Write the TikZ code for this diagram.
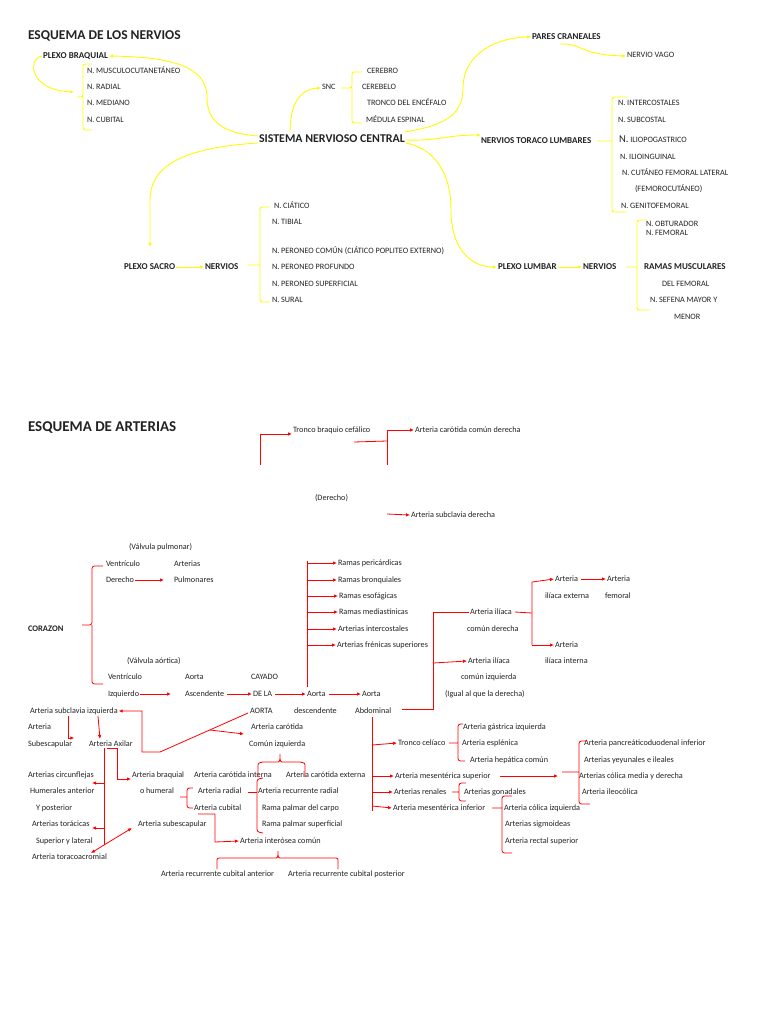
\documentclass[tikz,border=0pt]{standalone}
\usepackage{fontspec}
\setmainfont{Carlito}
\usetikzlibrary{arrows.meta}
\definecolor{yel}{RGB}{255,250,0}
\definecolor{rd}{RGB}{255,0,0}
\definecolor{tx}{RGB}{35,35,35}
\begin{document}
\begin{tikzpicture}[x=1pt,y=-1pt,
  txt/.style={anchor=west,inner sep=0pt,outer sep=1pt,text=tx,font=\fontsize{8.2}{9.5}\selectfont,text height=5.6pt,text depth=1.6pt},
  hdr/.style={txt,font=\bfseries\fontsize{9}{10}\selectfont,text height=6.2pt},
  ttl/.style={txt,font=\bfseries\fontsize{13.5}{15}\selectfont,text height=9.5pt,text depth=2.5pt},
  ylin/.style={draw=yel,line width=0.9pt},
  yarr/.style={ylin,-{Latex[length=4pt,width=3.5pt]}},
  ybr/.style={ylin,rounded corners=2.5pt},
  rlin/.style={draw=rd,line width=0.8pt},
  rarr/.style={rlin,-{Latex[length=4pt,width=3.5pt]}},
  rbr/.style={rlin,rounded corners=2.5pt},
]
\useasboundingbox (0,0) rectangle (768,1024);
\fill[white] (0,0) rectangle (768,1024);

% ================= NERVIOS =================
\node[ttl] (ttlN) at (27,36) {ESQUEMA DE LOS NERVIOS};
\node[hdr] (pb) at (42,56) {PLEXO BRAQUIAL};
\node[txt] (n1) at (86,72) {N. MUSCULOCUTANETÁNEO};
\node[txt] (n2) at (86,88) {N. RADIAL};
\node[txt] (n3) at (86,104) {N. MEDIANO};
\node[txt] (n4) at (86,121) {N. CUBITAL};
\node[txt,font=\bfseries\fontsize{11.9}{13}\selectfont,text height=8pt,text depth=2pt] (snm) at (258,140) {SISTEMA NERVIOSO CENTRAL};
\node[txt] (snc) at (321,88) {SNC};
\node[txt] (c1) at (366,72) {CEREBRO};
\node[txt] (c2) at (361,88) {CEREBELO};
\node[txt] (c3) at (366,104) {TRONCO DEL ENCÉFALO};
\node[txt] (c4) at (365,121) {MÉDULA ESPINAL};
\node[hdr] (pc) at (531,37) {PARES CRANEALES};
\node[txt] (vago) at (626,56) {NERVIO VAGO};
\node[hdr] (ntl) at (480,141) {NERVIOS TORACO LUMBARES};
\node[txt] (t1) at (617,104) {N. INTERCOSTALES};
\node[txt] (t2) at (617,121) {N. SUBCOSTAL};
\node[txt] (t3) at (618,141) {{\fontsize{10.5}{11}\selectfont N.} ILIOPOGASTRICO};
\node[txt] (t4) at (619,158) {N. ILIOINGUINAL};
\node[txt] (t5) at (621,174) {N. CUTÁNEO FEMORAL LATERAL};
\node[txt] (t6) at (634,190) {(FEMOROCUTÁNEO)};
\node[txt] (t7) at (620,207) {N. GENITOFEMORAL};
\node[hdr] (ps) at (123,267) {PLEXO SACRO};
\node[hdr] (nv1) at (204,267) {NERVIOS};
\node[txt] (s1) at (273,207) {N. CIÁTICO};
\node[txt] (s2) at (271,223) {N. TIBIAL};
\node[txt] (s3) at (271,251) {N. PERONEO COMÚN (CIÁTICO POPLITEO EXTERNO)};
\node[txt] (s4) at (271,267) {N. PERONEO PROFUNDO};
\node[txt] (s5) at (271,284) {N. PERONEO SUPERFICIAL};
\node[txt] (s6) at (271,300) {N. SURAL};
\node[hdr] (pl) at (497,267) {PLEXO LUMBAR};
\node[hdr] (nv2) at (582,267) {NERVIOS};
\node[txt] (l1) at (645,224) {N. OBTURADOR};
\node[txt] (l2) at (645,234) {N. FEMORAL};
\node[hdr] (rm) at (643,267) {RAMAS MUSCULARES};
\node[txt] (l3) at (661,284) {DEL FEMORAL};
\node[txt] (l4) at (649,300) {N. SEFENA MAYOR Y};
\node[txt] (l5) at (673,317) {MENOR};

\coordinate (pbin) at (74,92);
\coordinate (psin) at (150,247);
\coordinate (ntlin) at (481,135);
\draw[yarr] (pb.west) .. controls (28,58) and (28,90) .. (pbin);
\draw[ybr] (92,64) -- (83,64) -- (83,97) -- (77,97) (83,97) -- (83,130) -- (92,130);
\draw[yarr] ([yshift=4pt]snm.west) .. controls (218,133) and (207,118) .. (207,97)
   .. controls (207,64) and (165,57) .. (pb.east);
\draw[yarr] (290,132) .. controls (290,104) and (300,89) .. (snc.west);
\draw[ybr] (362,72) -- (352,72) -- (352,88) -- (341,88) (352,88) -- (352,123) -- (362,123);
\draw[yarr] (404,132) .. controls (452,125) and (463,110) .. (463,88)
   .. controls (463,52) and (500,37) .. (pc.west);
\draw[yarr] (560,44) .. controls (582,43) and (580,55) .. (vago.west);
\draw[yarr] (snm.east) .. controls (440,141) and (445,135) .. (ntlin);
\draw[ybr] (597,141) -- (612,141) (627,97) -- (612,97) -- (612,212) -- (627,212);
\draw[yarr] ([yshift=-3pt]snm.west) .. controls (175,148) and (150,170) .. (150,200) -- (psin);
\draw[yarr] (ps.east) -- (nv1.west);
\draw[ybr] (248,265) -- (260,265) (270,207) -- (260,207) -- (260,302) -- (270,302);
\draw[yarr] ([yshift=-3pt]snm.east) .. controls (440,150) and (451,180) .. (451,210)
   .. controls (451,248) and (470,267) .. (pl.west);
\draw[yarr] (pl.east) -- (nv2.west);
\draw[ybr] (626,267) -- (637,267) (647,220) -- (637,220) -- (637,310) -- (649,310);

% ================= ARTERIAS =================
\node[ttl,font=\bfseries\fontsize{15}{17}\selectfont,text height=10.5pt] (ttlA) at (27,427) {ESQUEMA DE ARTERIAS};
\node[txt] (tbc) at (292,430) {Tronco braquio cefálico};
\node[txt] (accd) at (414,430) {Arteria carótida común derecha};
\node[txt] (der) at (314,498) {(Derecho)};
\node[txt] (asd) at (410,515) {Arteria subclavia derecha};

\coordinate (tb0) at (260,465);
\coordinate (tb1) at (260,434);
\draw[rarr] (tb0) -- (tb1) -- (tbc.west |- tb1);
\coordinate (cd0) at (354,442);
\coordinate (cd1) at (387,441);
\draw[rlin] (cd0) -- (cd1);
\draw[rarr] (387,465) -- (387,430) -- (accd.west);
\draw[rarr] (387,514) -- (asd.west);

\node[txt] (vp) at (128,547) {(Válvula pulmonar)};
\node[hdr,font=\bfseries\fontsize{8.5}{10}\selectfont] (cor) at (27,629) {CORAZON};
\node[txt] (vd1) at (105,564) {Ventrículo};
\node[txt] (vd2) at (105,580) {Derecho};
\node[txt] (ap1) at (173,564) {Arterias};
\node[txt] (ap2) at (173,580) {Pulmonares};
\node[txt] (va) at (126,661) {(Válvula aórtica)};
\node[txt] (vi1) at (107,677) {Ventrículo};
\node[txt] (vi2) at (107,694) {Izquierdo};
\node[txt] (aa1) at (184,677) {Aorta};
\node[txt] (aa2) at (184,694) {Ascendente};
\node[txt] (cay1) at (250,677) {CAYADO};
\node[txt] (cay2) at (252,694) {DE LA};
\node[txt] (cay3) at (249,711) {AORTA};
\node[txt] (ad1) at (306,694) {Aorta};
\node[txt] (ad2) at (293,711) {descendente};
\node[txt] (ab1) at (361,694) {Aorta};
\node[txt] (ab2) at (354,711) {Abdominal};

\draw[rbr] (103,566) -- (92,566) -- (92,625) -- (82,625) (92,625) -- (92,684) -- (103,684);
\draw[rarr] (vd2.east) -- ([xshift=-9pt]ap2.west);
\draw[rarr] (vi2.east) -- ([xshift=-13pt]aa2.west);
\draw[rarr] ([xshift=2pt]aa2.east) -- (cay2.west);
\draw[rarr] ([xshift=2pt]cay2.east) -- (ad1.west);
\draw[rarr] ([xshift=2pt]ad1.east) -- (ab1.west);

\node[txt] (r1) at (337,563) {Ramas pericárdicas};
\node[txt] (r2) at (337,580) {Ramas bronquiales};
\node[txt] (r3) at (338,596) {Ramas esofágicas};
\node[txt] (r4) at (338,612) {Ramas mediastínicas};
\node[txt] (r5) at (337,629) {Arterias intercostales};
\node[txt] (r6) at (336,645) {Arterias frénicas superiores};
\draw[rlin] (307,561) -- (307,687);
\foreach \n in {r1,r2,r3,r4,r5,r6} \draw[rarr] (307,0 |- \n.west) -- (\n.west);

\node[txt] (ic1) at (469,612) {Arteria ilíaca};
\node[txt] (ic2) at (466,629) {común derecha};
\node[txt] (ii1) at (467,661) {Arteria ilíaca};
\node[txt] (ii2) at (460,677) {común izquierda};
\node[txt] (ii3) at (444,694) {(Igual al que la derecha)};
\node[txt] (ie1) at (554,579) {Arteria};
\node[txt] (ie2) at (544,596) {ilíaca externa};
\node[txt] (fe1) at (606,579) {Arteria};
\node[txt] (fe2) at (604,596) {femoral};
\node[txt] (in1) at (554,645) {Arteria};
\node[txt] (in2) at (544,661) {ilíaca interna};

\draw[rlin] ([xshift=10pt,yshift=2pt]ab2.east) -- (433,709) -- (433,612) -- (ic1.west);
\draw[rarr] (433,663) -- (ii1.west);
\draw[rlin] ([xshift=2pt]ic1.east) -- (532,613);
\draw[rarr] (532,645) -- (532,582) -- (ie1.west);
\draw[rarr] (532,645) -- (in1.west);
\draw[rarr] ([xshift=2pt]ie1.east) -- (fe1.west);

% ---- bottom left
\node[txt] (sci) at (29,711) {Arteria subclavia izquierda};
\node[txt] (acc1) at (250,727) {Arteria carótida};
\node[txt] (acc2) at (248,744) {Común izquierda};
\node[txt] (sub1) at (27,727) {Arteria};
\node[txt] (sub2) at (27,744) {Subescapular};
\node[txt] (ax) at (88,744) {Arteria Axilar};
\node[txt] (circ1) at (27,775) {Arterias circunflejas};
\node[txt] (circ2) at (29,791) {Humerales anterior};
\node[txt] (circ3) at (35,808) {Y posterior};
\node[txt] (tor1) at (31,824) {Arterias torácicas};
\node[txt] (tor2) at (35,841) {Superior y lateral};
\node[txt] (toa) at (31,857) {Arteria toracoacromial};
\node[txt] (br1) at (131,775) {Arteria braquial};
\node[txt] (br2) at (139,791) {o humeral};
\node[txt] (ci) at (193,775) {Arteria carótida interna};
\node[txt] (ce) at (285,775) {Arteria carótida externa};
\node[txt] (rad) at (197,791) {Arteria radial};
\node[txt] (cub) at (193,808) {Arteria cubital};
\node[txt] (rr) at (257,791) {Arteria recurrente radial};
\node[txt] (rpc) at (261,808) {Rama palmar del carpo};
\node[txt] (rps) at (261,824) {Rama palmar superficial};
\node[txt] (subesc) at (137,824) {Arteria subescapular};
\node[txt] (inter) at (239,841) {Arteria interósea común};
\node[txt] (rca) at (160,874) {Arteria recurrente cubital anterior};
\node[txt] (rcp) at (287,874) {Arteria recurrente cubital posterior};

\coordinate (ao0) at (248,713);
\coordinate (ao1) at (160,752);
\draw[rarr] (ao0) -- (ao1) -- (142,752) -- (142,711) -- (sci.east);
\draw[rarr] (210,730) -- (244,734);
\draw[rarr] (68,716) -- (68,738) -- ([xshift=1pt]sub2.east |- 0,738);
\draw[rarr] (98,716) -- (100,739);
\draw[rlin] (104,748) -- (104,845);
\draw[rarr] (104,783) -- (92,783);
\draw[rarr] (104,828) -- (92,828);
\draw[rarr] (104,845) -- (91,853);
\draw[rarr] (104,845) -- (132,828);
\draw[rarr] (107,748) -- (117,748) -- (117,779) -- (br1.west |- 0,779);
\draw[rlin] (258,777) -- (258,767) .. controls (258,763) .. (263,762) -- (276,762)
  .. controls (280,762) .. (280,754) .. controls (280,762) .. (284,762) -- (300,762)
  .. controls (305,763) .. (305,767) -- (305,777);
\draw[rbr] (180,797) -- (187,797) (193,788) -- (187,788) -- (187,808) -- (193,808);
\draw[rlin] (248,792) -- (257,792);
\draw[rlin] (263,778) .. controls (257,779) .. (257,785) -- (257,826) .. controls (257,832) .. (263,833);
\draw[rarr] (198,814) -- (215,814) -- (215,842) -- (inter.west);
\draw[rlin] (217,869) -- (217,862) .. controls (217,858) .. (222,858) -- (274,858)
  .. controls (278,858) .. (278,851) .. controls (278,858) .. (282,858) -- (334,858)
  .. controls (338,858) .. (338,862) -- (338,869);

% ---- bottom right
\node[txt] (tc) at (397,743) {Tronco celíaco};
\node[txt] (ams) at (394,776) {Arteria mesentérica superior};
\node[txt] (ar) at (393,792) {Arterias renales};
\node[txt] (ami) at (392,808) {Arteria mesentérica inferior};
\node[txt] (agi) at (462,727) {Arteria gástrica izquierda};
\node[txt] (ae) at (461,743) {Arteria esplénica};
\node[txt] (ahc) at (469,760) {Arteria hepática común};
\node[txt] (apd) at (583,743) {Arteria pancreáticoduodenal inferior};
\node[txt] (ayi) at (583,760) {Arterias yeyunales e ileales};
\node[txt] (acm) at (578,776) {Arterias cólica media y derecha};
\node[txt] (aic) at (581,792) {Arteria ileocólica};
\node[txt] (ag) at (463,792) {Arterias gonadales};
\node[txt] (aci) at (503,808) {Arteria cólica izquierda};
\node[txt] (asg) at (504,824) {Arterias sigmoideas};
\node[txt] (ars) at (504,841) {Arteria rectal superior};

\draw[rlin] (372,717) -- (372,811);
\draw[rarr] (372,745) -- (tc.west);
\draw[rarr] (372,776) -- (ams.west);
\draw[rarr] (372,792) -- (ar.west);
\draw[rarr] (372,806) -- (ami.west);
\draw[rbr] (449,743) -- (458,743) (463,724) -- (458,724) -- (458,761) -- (465,761);
\draw[rarr] ([xshift=8pt]ams.east) -- (558,776);
\draw[rbr] (562,772) -- (579,772) (587,741) -- (579,741) -- (579,804) -- (590,804);
\draw[rbr] (452,792) -- (459,792) (466,783) -- (459,783) -- (459,801) -- (466,801);
\draw[rbr] (492,808) -- (502,808) (512,796) -- (502,796) -- (502,853) -- (512,853);

\end{tikzpicture}
\end{document}
